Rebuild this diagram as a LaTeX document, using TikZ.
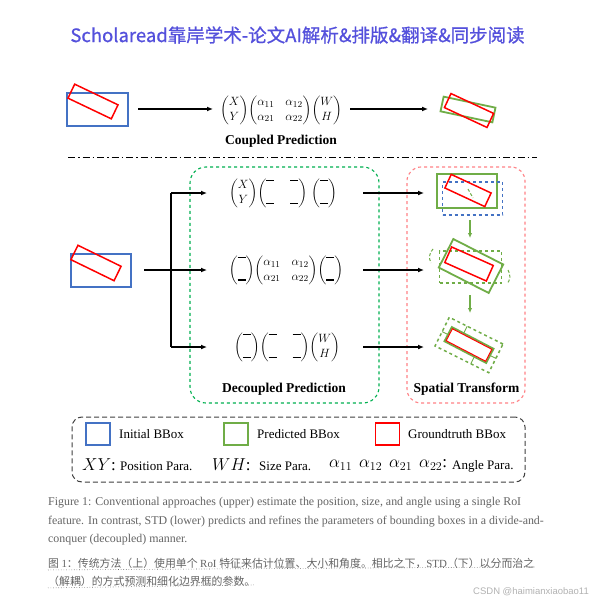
\documentclass[tikz,border=0pt]{standalone}
\usepackage{amsmath}
\usepackage{fontspec}
\setmainfont{Liberation Serif}
\newfontfamily\cjk{Noto Sans CJK SC}
\newfontfamily\cjkb[FakeBold=0.8]{Noto Sans CJK SC}
\newfontfamily\sansf{Liberation Sans}
\usetikzlibrary{arrows.meta}
\definecolor{bblue}{RGB}{68,114,196}
\definecolor{bgreen}{RGB}{112,173,71}
\definecolor{bred}{RGB}{255,0,0}
\definecolor{dgreen}{RGB}{0,176,80}
\definecolor{pinkb}{RGB}{255,130,134}
\definecolor{titlec}{RGB}{84,80,220}
\definecolor{capc}{RGB}{100,100,100}
\newcommand\tbar{\rule[8pt]{8pt}{0.6pt}}
\newcommand\bbar{\rule[-0.5pt]{8pt}{0.6pt}}
\newcommand\bbarb{\rule[-0.5pt]{8pt}{1.3pt}}
\begin{document}
\begin{tikzpicture}[x=1pt,y=-1pt,
  rbox/.style={draw=bred,line width=1.5pt,inner sep=0pt,outer sep=0pt},
  gbox/.style={draw=bgreen,line width=1.8pt,inner sep=0pt,outer sep=0pt},
  bbox/.style={draw=bblue,line width=1.5pt,inner sep=0pt,outer sep=0pt},
  arr/.style={-{Latex[length=6pt,width=5pt]},line width=1.3pt},
  garr/.style={-{Latex[length=5pt,width=4.5pt]},line width=1.3pt,draw=bgreen,color=bgreen},
  lbl/.style={font=\bfseries\fontsize{13.5}{16}\selectfont,inner sep=0pt},
  mat/.style={font=\fontsize{13}{14.5}\selectfont,inner sep=0pt},
  legt/.style={font=\fontsize{13}{15}\selectfont,anchor=west,inner sep=0pt},
  legm/.style={font=\fontsize{17}{20}\selectfont,anchor=west,inner sep=0pt},
  capt/.style={font=\fontsize{11.9}{13}\selectfont,anchor=west,inner sep=0pt,text=capc},
  capz/.style={font=\fontsize{10.9}{13}\selectfont,anchor=west,inner sep=0pt,text=capc},
]
\useasboundingbox[fill=white] (0,0) rectangle (594,604);

% title
\node[font=\cjkb\fontsize{18.5}{22}\selectfont,text=titlec,inner sep=0pt] (title) at (297.5,35) {Scholaread靠岸学术-论文AI解析\&排版\&翻译\&同步阅读};

% ---------- coupled ----------
\node[bbox,minimum width=61pt,minimum height=33pt] (in1) at (97.5,109.5) {};
\node[rbox,minimum width=48pt,minimum height=15.5pt,rotate=-25.5] (in1r) at (93,101.5) {};
\node[mat] (m0) at (281,110) {\setlength\arraycolsep{5.5pt}$\begin{pmatrix}X\\Y\end{pmatrix}\!\begin{pmatrix}\alpha_{11}&\alpha_{12}\\\alpha_{21}&\alpha_{22}\end{pmatrix}\!\begin{pmatrix}W\\H\end{pmatrix}$};
\coordinate (c0) at (138,109);
\coordinate (c1) at (213,109);
\coordinate (c2) at (350,109);
\coordinate (c3) at (428,109);
\draw[arr] (c0) -- (c1);
\draw[arr] (c2) -- (c3);
\node[gbox,minimum width=53pt,minimum height=15pt,rotate=-12] (out1g) at (468,109.5) {};
\node[rbox,minimum width=47pt,minimum height=15.5pt,rotate=-25] (out1r) at (469,110.5) {};
\node[lbl] (cpl) at (281,141) {Coupled Prediction};

\draw[line width=0.9pt,dash pattern=on 7pt off 3pt on 1.5pt off 3pt] (68,157) -- (537,157);

% ---------- decoupled ----------
\node[draw=dgreen,dashed,line width=1.1pt,rounded corners=16pt,minimum width=189pt,minimum height=236pt,inner sep=0pt] (gdash) at (284.5,285) {};
\node[draw=pinkb,dashed,line width=1.1pt,rounded corners=14pt,minimum width=118pt,minimum height=236pt,inner sep=0pt] (pdash) at (466,285) {};
\node[lbl] (dpl) at (284,389) {Decoupled Prediction};
\node[lbl] (stl) at (466.5,389) {Spatial Transform};

\node[bbox,minimum width=60pt,minimum height=33pt] (in2) at (101,270.5) {};
\node[rbox,minimum width=48pt,minimum height=16pt,rotate=-26] (in2r) at (96,263) {};

\coordinate (j1) at (171,193);
\coordinate (j3) at (171,347);
\coordinate (t1) at (207,193);
\coordinate (t2) at (207,270);
\coordinate (t3) at (207,347);
\draw[line width=1.3pt] (j1) -- (j3);
\draw[arr,shorten <=13pt] (in2.east |- t2) -- (t2);
\draw[arr] (j1) -- (t1);
\draw[arr] (j3) -- (t3);

\node[mat] (m1) at (283,193) {\setlength\arraycolsep{8pt}$\begin{pmatrix}X\\Y\end{pmatrix}\!\begin{pmatrix}\tbar&\tbar\\\bbar&\bbar\end{pmatrix}\,\begin{pmatrix}\tbar\\\bbar\end{pmatrix}$};
\node[mat] (m2) at (286,270) {\setlength\arraycolsep{5.5pt}$\begin{pmatrix}\tbar\\\bbarb\end{pmatrix}\!\begin{pmatrix}\alpha_{11}&\alpha_{12}\\\alpha_{21}&\alpha_{22}\end{pmatrix}\!\begin{pmatrix}\tbar\\\bbarb\end{pmatrix}$};
\node[mat] (m3) at (287,347) {\setlength\arraycolsep{8pt}$\begin{pmatrix}\tbar\\\bbar\end{pmatrix}\!\begin{pmatrix}\tbar&\tbar\\\bbar&\bbar\end{pmatrix}\!\begin{pmatrix}W\\H\end{pmatrix}$};

\coordinate (s1) at (363,193);
\coordinate (s2) at (363,270);
\coordinate (s3) at (363,347);
\coordinate (e1) at (424,193);
\coordinate (e2) at (424,270);
\coordinate (e3) at (424,347);
\draw[arr] (s1) -- (e1);
\draw[arr] (s2) -- (e2);
\draw[arr] (s3) -- (e3);

% spatial row 1
\node[gbox,minimum width=60pt,minimum height=34pt] (st1g) at (467,191) {};
\node[bbox,dashed,minimum width=60pt,minimum height=33pt] (st1b) at (472.7,198.3) {};
\node[rbox,minimum width=44pt,minimum height=15pt,rotate=-25] (st1r) at (468,190.5) {};
\draw[bgreen,line width=1pt,dash pattern=on 3pt off 2pt] (468,189) -- (473,198);
\coordinate (ga1) at (470,220);
\coordinate (gb1) at (470,238);
\draw[garr] (ga1) -- (gb1);

% spatial row 2
\node[gbox,dashed,line width=1.5pt,minimum width=62pt,minimum height=32pt] (st2d) at (470.5,267) {};
\node[gbox,minimum width=56pt,minimum height=32pt,rotate=-27] (st2g) at (471,266) {};
\node[rbox,minimum width=45.5pt,minimum height=17pt,rotate=-24] (st2r) at (469,264) {};
\draw[bgreen,line width=1pt,dash pattern=on 3pt off 2pt] (433,249) to[bend right=35] (431,263);
\draw[bgreen,line width=1pt,dash pattern=on 3pt off 2pt] (508,270) to[bend left=35] (507,284);
\coordinate (ga2) at (470,295);
\coordinate (gb2) at (470,313);
\draw[garr] (ga2) -- (gb2);

% spatial row 3
\node[gbox,dashed,line width=1.5pt,minimum width=60pt,minimum height=32pt,rotate=-26.5] (st3d) at (469,345) {};
\node[gbox,minimum width=47pt,minimum height=16pt,rotate=-27.5] (st3g) at (469,345) {};
\node[draw=bred,line width=1pt,inner sep=0pt,minimum width=44.5pt,minimum height=13.5pt,rotate=-27.5] (st3r) at (469,345) {};
\begin{scope}[shift={(469,345)},rotate=-26.5]
  \draw[bgreen,line width=0.9pt] (10,8) -- (10,16);
  \draw[bgreen,line width=0.9pt] (-10,-8) -- (-10,-16);
  \draw[bgreen,line width=0.9pt] (-23.5,0) -- (-30,0);
  \draw[bgreen,line width=0.9pt] (23.5,0) -- (30,0);
\end{scope}

% ---------- legend ----------
\node[draw=black!75,line width=1pt,dash pattern=on 5pt off 3pt,rounded corners=10pt,minimum width=453pt,minimum height=65pt,inner sep=0pt] (leg) at (298.5,449.5) {};
\node[bbox,minimum width=24pt,minimum height=22pt] (lb) at (98,434) {};
\node[gbox,line width=1.5pt,minimum width=24pt,minimum height=22pt] (lg) at (236,434) {};
\node[rbox,minimum width=24pt,minimum height=22pt] (lr) at (387.5,434) {};
\node[legt] (lbt) at (119,434) {Initial BBox};
\node[legt] (lgt) at (257,434) {Predicted BBox};
\node[legt] (lrt) at (408,434) {Groundtruth BBox};
\node[legm] (lxy) at (82,465) {$XY$:};
\node[legt] (lxyt) at (120,466) {Position Para.};
\node[legm] (lwh) at (212,465) {$WH$:};
\node[legt] (lwht) at (259,466) {Size Para.};
\node[legm] (lal) at (329,465) {$\alpha_{11}\hspace{7pt}\alpha_{12}\hspace{7pt}\alpha_{21}\hspace{7pt}\alpha_{22}$:};
\node[legt] (lalt) at (452,466) {Angle Para.};

% ---------- caption ----------
\node[capt] (cap1) at (48,503) {Figure 1: Conventional approaches (upper) estimate the position, size, and angle using a single RoI};
\node[capt] (cap2) at (48,522) {feature. In contrast, STD (lower) predicts and refines the parameters of bounding boxes in a divide-and-};
\node[capt] (cap3) at (48,540) {conquer (decoupled) manner.};
\node[capz] (zh1) at (48,563) {{\cjk 图 }1{\cjk ：传统方法（上）使用单个 }RoI {\cjk 特征来估计位置、大小和角度。相比之下，}STD{\cjk （下）以分而治之}};
\node[capz] (zh2) at (48,581) {{\cjk （解耦）的方式预测和细化边界框的参数。}};
\draw[capc,line width=0.6pt,dotted] (zh1.south west)++(0,1.5) -- ([yshift=1.5pt]zh1.south east);
\draw[capc,line width=0.6pt,dotted] (zh2.south west)++(0,1.5) -- ([yshift=1.5pt]zh2.south east);
\node[font=\sansf\fontsize{9.5}{11}\selectfont,text=black!30,anchor=east,inner sep=0pt] (wm) at (589,592) {CSDN @haimianxiaobao11};
\end{tikzpicture}
\end{document}
